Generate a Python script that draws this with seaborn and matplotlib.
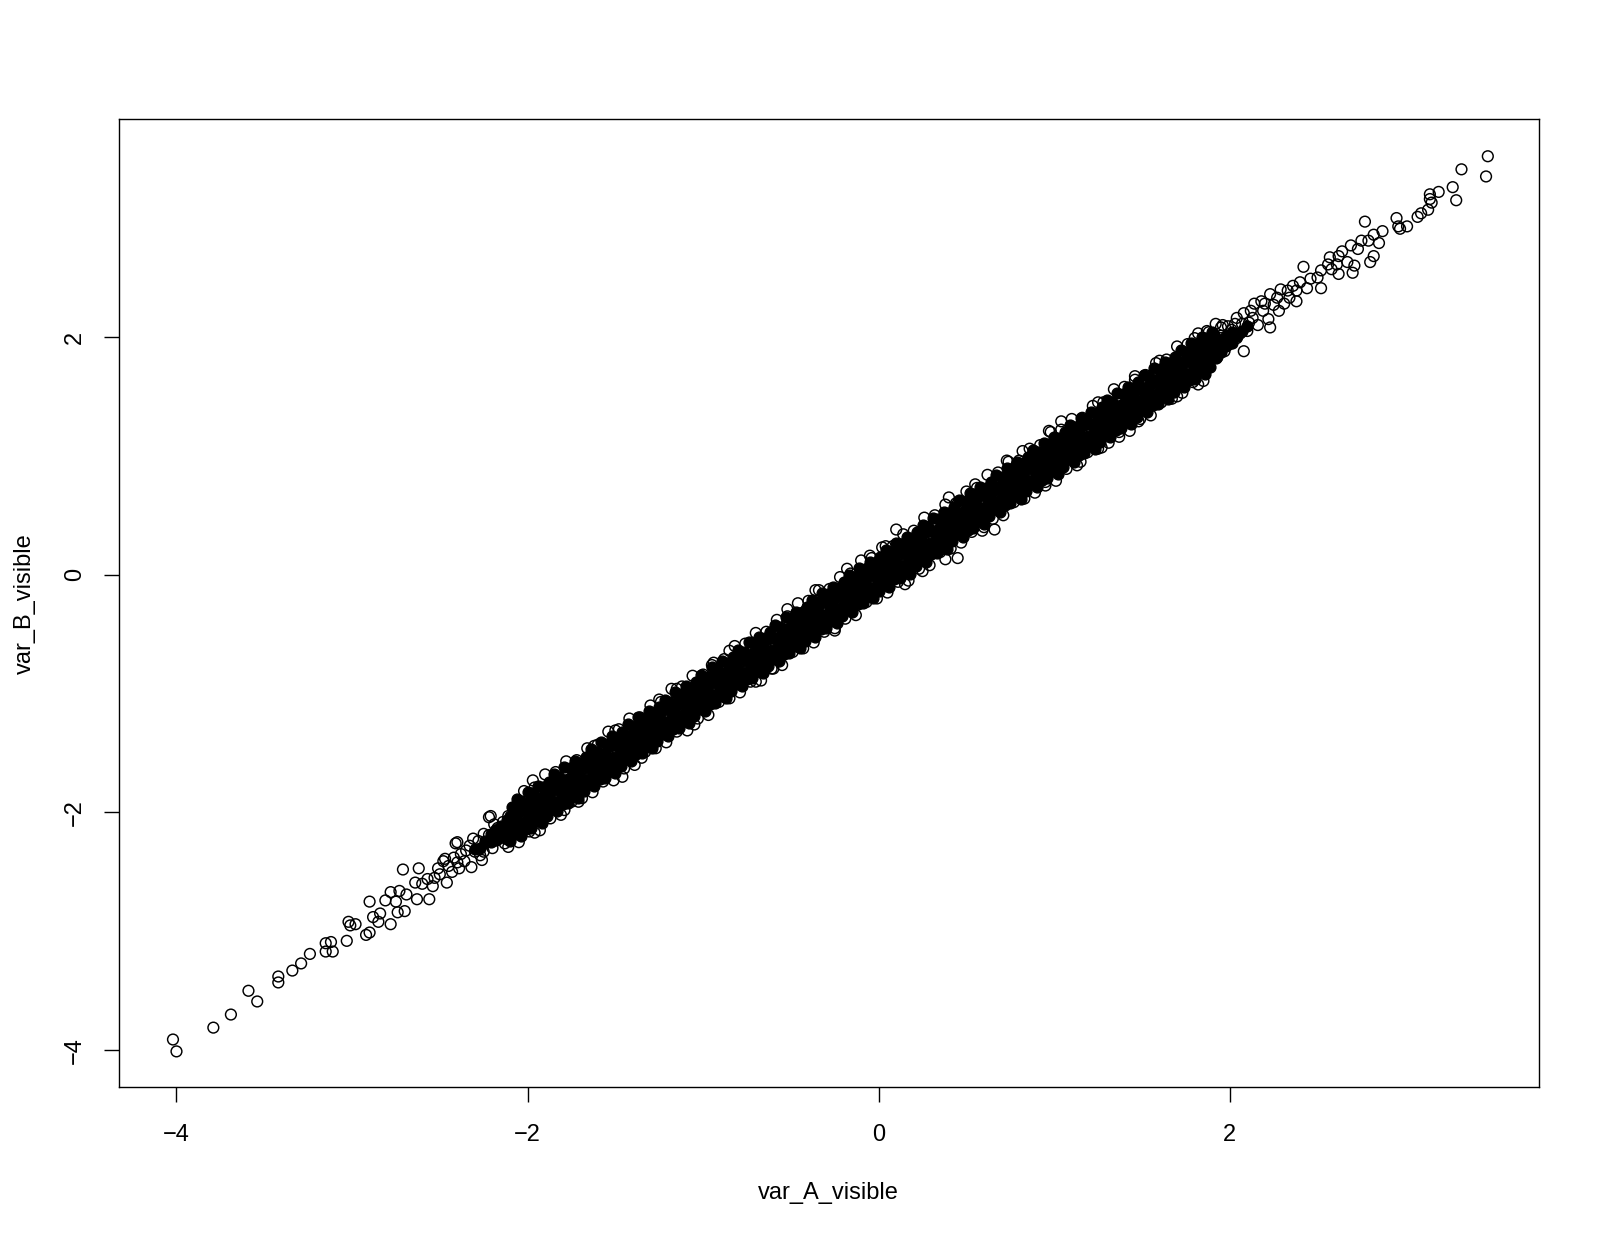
import matplotlib
matplotlib.use("Agg")
import matplotlib.pyplot as plt
import seaborn as sns
import pandas as pd

# ---------------------------------------------------------------------------
# values
# ---------------------------------------------------------------------------

# sparse lower tail
tail_low_a = [-4.02, -4.00, -3.79, -3.69, -3.59, -3.54, -3.42, -3.42, -3.34, -3.29,
              -3.24, -3.15, -3.15, -3.11, -3.12, -3.03, -3.02, -3.01, -2.98, -2.92,
              -2.90, -2.90, -2.88, -2.85, -2.84, -2.78, -2.81, -2.78, -2.75, -2.74,
              -2.73, -2.70, -2.71, -2.69, -2.62, -2.63, -2.64, -2.60, -2.57, -2.56,
              -2.54, -2.51, -2.47, -2.46, -2.43, -2.40, -2.41, -2.35, -2.32, -2.26,
              -2.25, -2.22, -2.17,
              -2.45, -2.42, -2.38, -2.36, -2.33, -2.30, -2.28, -2.27, -2.24, -2.22,
              -2.20, -2.18, -2.16, -2.14, -2.12, -2.11, -2.13, -2.19, -2.25, -2.31,
              -2.39, -2.50, -2.48, -2.53]
tail_low_b = [-3.91, -4.01, -3.81, -3.70, -3.50, -3.59, -3.38, -3.43, -3.33, -3.27,
              -3.19, -3.17, -3.10, -3.17, -3.09, -3.08, -2.92, -2.95, -2.94, -3.03,
              -3.01, -2.75, -2.88, -2.92, -2.85, -2.94, -2.74, -2.67, -2.75, -2.84,
              -2.66, -2.83, -2.48, -2.69, -2.47, -2.73, -2.59, -2.60, -2.56, -2.73,
              -2.62, -2.47, -2.39, -2.59, -2.50, -2.42, -2.26, -2.32, -2.46, -2.40,
              -2.18, -2.04, -2.13,
              -2.45, -2.38, -2.35, -2.41, -2.28, -2.33, -2.24, -2.36, -2.26, -2.19,
              -2.30, -2.15, -2.22, -2.08, -2.18, -2.03, -2.26, -2.10, -2.33, -2.22,
              -2.47, -2.52, -2.41, -2.55]

# sparse upper tail
tail_high_a = [3.47, 3.46, 3.32, 3.27, 3.29, 3.19, 3.14, 3.14, 3.15, 3.13,
               3.09, 3.07, 3.01, 2.97, 2.95, 2.96, 2.77, 2.87, 2.85, 2.82,
               2.80, 2.82, 2.79, 2.75, 2.73, 2.69, 2.71, 2.70, 2.67, 2.64,
               2.62, 2.61, 2.62, 2.57, 2.58, 2.56, 2.52, 2.42, 2.50, 2.52,
               2.46, 2.44, 2.40, 2.38, 2.36, 2.33, 2.29, 2.27, 2.23, 2.20,
               2.18, 2.14, 2.12, 2.08, 2.04, 2.03, 1.99, 1.95, 1.92, 1.91,
               1.87, 1.86, 2.23, 2.38, 2.31,
               1.92, 1.95, 1.98, 2.01, 2.04, 2.07, 2.10, 1.93, 1.96, 2.00,
               2.13, 2.16, 2.08, 2.19, 2.25, 2.22, 2.28, 2.34, 2.06, 2.11, 1.97]
tail_high_b = [3.52, 3.35, 3.41, 3.26, 3.15, 3.22, 3.20, 3.16, 3.13, 3.07,
               3.04, 3.01, 2.93, 2.91, 3.00, 2.93, 2.97, 2.89, 2.79, 2.86,
               2.63, 2.68, 2.81, 2.81, 2.74, 2.77, 2.60, 2.54, 2.63, 2.72,
               2.68, 2.61, 2.53, 2.67, 2.57, 2.61, 2.56, 2.59, 2.50, 2.41,
               2.49, 2.41, 2.46, 2.39, 2.43, 2.39, 2.40, 2.33, 2.36, 2.28,
               2.30, 2.28, 2.22, 2.20, 2.16, 2.11, 2.09, 2.08, 2.11, 2.02,
               2.05, 1.98, 2.08, 2.30, 2.28,
               1.90, 2.01, 1.95, 2.06, 1.99, 2.11, 2.05, 1.83, 2.10, 1.94,
               2.16, 2.10, 1.88, 2.22, 2.27, 2.15, 2.22, 2.33, 2.03, 2.12, 1.88]

# loose circles on both edges of the dense band
edge_a = [0.45, 0.10, 0.15, 0.38, 0.66, -0.52, -0.36, -0.18, 0.04, 0.40,
          0.25, 1.04, 0.97, 1.46, 1.80, 1.37, 1.27, 1.82, 1.48, 0.73,
          0.82, -1.97, -2.11, -1.96, -2.21, -1.46, -1.62, -1.79, -1.71, -2.40,
          -1.25, -1.05, -0.85, -0.70, -0.95, -1.35, -1.15, -0.60, 0.55, 0.95,
          1.15, 1.60, 1.70, -0.25, -0.05, 1.25, 0.60, -1.50, 0.20]
edge_b = [0.14, 0.38, -0.08, 0.13, 0.38, -0.29, -0.13, 0.05, 0.24, 0.65,
          0.03, 1.29, 1.21, 1.64, 1.99, 1.16, 1.07, 1.60, 1.29, 0.96,
          1.04, -1.73, -2.29, -2.17, -2.03, -1.70, -1.44, -1.98, -1.91, -2.25,
          -1.05, -1.26, -0.64, -0.90, -0.76, -1.54, -0.96, -0.79, 0.76, 0.75,
          0.95, 1.80, 1.50, -0.45, 0.16, 1.45, 0.40, -1.31, 0.27]

# outer fringe of the band, below and above
fringe_a_low = [-2.05, -1.99, -1.93, -1.87, -1.81, -1.75, -1.69, -1.63, -1.57, -1.51,
                -1.45, -1.39, -1.33, -1.27, -1.21, -1.15, -1.09, -1.03, -0.97, -0.91,
                -0.85, -0.79, -0.73, -0.67, -0.61, -0.55, -0.49, -0.43, -0.37, -0.31,
                -0.25, -0.19, -0.13, -0.07, -0.01, 0.05, 0.11, 0.17, 0.23, 0.29,
                0.35, 0.41, 0.47, 0.53, 0.59, 0.65, 0.71, 0.77, 0.83, 0.89,
                0.95, 1.01, 1.07, 1.13, 1.19, 1.25, 1.31, 1.37, 1.43, 1.49,
                1.55, 1.61, 1.67, 1.73, 1.79, 1.85]
fringe_b_low = [-2.25, -2.16, -2.15, -2.05, -2.02, -1.91, -1.88, -1.83, -1.74, -1.73,
                -1.63, -1.60, -1.49, -1.46, -1.41, -1.32, -1.31, -1.21, -1.18, -1.07,
                -1.04, -0.99, -0.90, -0.89, -0.79, -0.76, -0.65, -0.62, -0.57, -0.48,
                -0.47, -0.37, -0.34, -0.23, -0.20, -0.15, -0.06, -0.05, 0.05, 0.08,
                0.19, 0.22, 0.27, 0.36, 0.37, 0.47, 0.50, 0.61, 0.64, 0.69,
                0.78, 0.79, 0.89, 0.92, 1.03, 1.06, 1.11, 1.20, 1.21, 1.31,
                1.34, 1.45, 1.48, 1.53, 1.62, 1.63]
fringe_a_high = [-2.02, -1.96, -1.90, -1.84, -1.78, -1.72, -1.66, -1.60, -1.54, -1.48,
                 -1.42, -1.36, -1.30, -1.24, -1.18, -1.12, -1.06, -1.00, -0.94, -0.88,
                 -0.82, -0.76, -0.70, -0.64, -0.58, -0.52, -0.46, -0.40, -0.34, -0.28,
                 -0.22, -0.16, -0.10, -0.04, 0.02, 0.08, 0.14, 0.20, 0.26, 0.32,
                 0.38, 0.44, 0.50, 0.56, 0.62, 0.68, 0.74, 0.80, 0.86, 0.92,
                 0.98, 1.04, 1.10, 1.16, 1.22, 1.28, 1.34, 1.40, 1.46, 1.52,
                 1.58, 1.64, 1.70, 1.76, 1.82, 1.88]
fringe_b_high = [-1.82, -1.79, -1.68, -1.66, -1.57, -1.56, -1.46, -1.43, -1.32, -1.30,
                 -1.21, -1.20, -1.10, -1.07, -0.96, -0.94, -0.85, -0.84, -0.74, -0.71,
                 -0.60, -0.58, -0.49, -0.48, -0.38, -0.35, -0.24, -0.22, -0.13, -0.12,
                 -0.02, 0.01, 0.12, 0.14, 0.23, 0.24, 0.34, 0.37, 0.48, 0.50,
                 0.59, 0.60, 0.70, 0.73, 0.84, 0.86, 0.95, 0.96, 1.06, 1.09,
                 1.20, 1.22, 1.31, 1.32, 1.42, 1.45, 1.56, 1.58, 1.67, 1.68,
                 1.78, 1.81, 1.92, 1.94, 2.03, 2.04]

# where the dense band thins out at both ends
taper_a = [-2.12, -2.12, -2.12, -2.15, -2.15, -2.18, -2.18, -2.21, -2.21, -2.24,
           -2.27, -2.30,
           1.92, 1.92, 1.92, 1.95, 1.95, 1.98, 1.98, 2.01, 2.01, 2.04,
           2.07, 2.10]
taper_b = [-2.22, -2.14, -2.06, -2.20, -2.11, -2.23, -2.15, -2.25, -2.18, -2.24,
           -2.30, -2.31,
           1.82, 1.91, 1.99, 1.87, 1.96, 1.92, 2.01, 1.95, 2.04, 2.01,
           2.05, 2.09]

# dense band, first column set
band_a0 = [-2.10, -2.07, -2.04, -2.01, -1.98, -1.95, -1.92, -1.89, -1.86, -1.83,
           -1.80, -1.77, -1.74, -1.71, -1.68, -1.65, -1.62, -1.59, -1.56, -1.53,
           -1.50, -1.47, -1.44, -1.41, -1.38, -1.35, -1.32, -1.29, -1.26, -1.23,
           -1.20, -1.17, -1.14, -1.11, -1.08, -1.05, -1.02, -0.99, -0.96, -0.93,
           -0.90, -0.87, -0.84, -0.81, -0.78, -0.75, -0.72, -0.69, -0.66, -0.63,
           -0.60, -0.57, -0.54, -0.51, -0.48, -0.45, -0.42, -0.39, -0.36, -0.33,
           -0.30, -0.27, -0.24, -0.21, -0.18, -0.15, -0.12, -0.09, -0.06, -0.03,
           0.00, 0.03, 0.06, 0.09, 0.12, 0.15, 0.18, 0.21, 0.24, 0.27,
           0.30, 0.33, 0.36, 0.39, 0.42, 0.45, 0.48, 0.51, 0.54, 0.57,
           0.60, 0.63, 0.66, 0.69, 0.72, 0.75, 0.78, 0.81, 0.84, 0.87,
           0.90, 0.93, 0.96, 0.99, 1.02, 1.05, 1.08, 1.11, 1.14, 1.17,
           1.20, 1.23, 1.26, 1.29, 1.32, 1.35, 1.38, 1.41, 1.44, 1.47,
           1.50, 1.53, 1.56, 1.59, 1.62, 1.65, 1.68, 1.71, 1.74, 1.77,
           1.80, 1.83, 1.86, 1.89]
band_b_low = [-2.24, -2.18, -2.20, -2.14, -2.13, -2.07, -2.09, -2.03, -1.97, -1.99,
              -1.93, -1.92, -1.86, -1.88, -1.82, -1.76, -1.78, -1.72, -1.71, -1.65,
              -1.67, -1.61, -1.55, -1.57, -1.51, -1.50, -1.44, -1.46, -1.40, -1.34,
              -1.36, -1.30, -1.29, -1.23, -1.25, -1.19, -1.13, -1.15, -1.09, -1.08,
              -1.02, -1.04, -0.98, -0.92, -0.94, -0.88, -0.87, -0.81, -0.83, -0.77,
              -0.71, -0.73, -0.67, -0.66, -0.60, -0.62, -0.56, -0.50, -0.52, -0.46,
              -0.45, -0.39, -0.41, -0.35, -0.29, -0.31, -0.25, -0.24, -0.18, -0.20,
              -0.14, -0.08, -0.10, -0.04, -0.03, 0.03, 0.01, 0.07, 0.13, 0.11,
              0.17, 0.18, 0.24, 0.22, 0.28, 0.34, 0.32, 0.38, 0.39, 0.45,
              0.43, 0.49, 0.55, 0.53, 0.59, 0.60, 0.66, 0.64, 0.70, 0.76,
              0.74, 0.80, 0.81, 0.87, 0.85, 0.91, 0.97, 0.95, 1.01, 1.02,
              1.08, 1.06, 1.12, 1.18, 1.16, 1.22, 1.23, 1.29, 1.27, 1.33,
              1.39, 1.37, 1.43, 1.44, 1.50, 1.48, 1.54, 1.60, 1.58, 1.64,
              1.65, 1.71, 1.69, 1.75]
band_b_up = [-2.03, -2.02, -1.96, -1.95, -1.89, -1.88, -1.87, -1.81, -1.80, -1.74,
             -1.73, -1.72, -1.66, -1.65, -1.59, -1.58, -1.57, -1.51, -1.50, -1.44,
             -1.43, -1.42, -1.36, -1.35, -1.29, -1.28, -1.27, -1.21, -1.20, -1.14,
             -1.13, -1.12, -1.06, -1.05, -0.99, -0.98, -0.97, -0.91, -0.90, -0.84,
             -0.83, -0.82, -0.76, -0.75, -0.69, -0.68, -0.67, -0.61, -0.60, -0.54,
             -0.53, -0.52, -0.46, -0.45, -0.39, -0.38, -0.37, -0.31, -0.30, -0.24,
             -0.23, -0.22, -0.16, -0.15, -0.09, -0.08, -0.07, -0.01, 0.00, 0.06,
             0.07, 0.08, 0.14, 0.15, 0.21, 0.22, 0.23, 0.29, 0.30, 0.36,
             0.37, 0.38, 0.44, 0.45, 0.51, 0.52, 0.53, 0.59, 0.60, 0.66,
             0.67, 0.68, 0.74, 0.75, 0.81, 0.82, 0.83, 0.89, 0.90, 0.96,
             0.97, 0.98, 1.04, 1.05, 1.11, 1.12, 1.13, 1.19, 1.20, 1.26,
             1.27, 1.28, 1.34, 1.35, 1.41, 1.42, 1.43, 1.49, 1.50, 1.56,
             1.57, 1.58, 1.64, 1.65, 1.71, 1.72, 1.73, 1.79, 1.80, 1.86,
             1.87, 1.88, 1.94, 1.95]

# dense band, second column set
band_a1 = [-2.09, -2.06, -2.03, -2.00, -1.97, -1.94, -1.91, -1.88, -1.85, -1.82,
           -1.79, -1.76, -1.73, -1.70, -1.67, -1.64, -1.61, -1.58, -1.55, -1.52,
           -1.49, -1.46, -1.43, -1.40, -1.37, -1.34, -1.31, -1.28, -1.25, -1.22,
           -1.19, -1.16, -1.13, -1.10, -1.07, -1.04, -1.01, -0.98, -0.95, -0.92,
           -0.89, -0.86, -0.83, -0.80, -0.77, -0.74, -0.71, -0.68, -0.65, -0.62,
           -0.59, -0.56, -0.53, -0.50, -0.47, -0.44, -0.41, -0.38, -0.35, -0.32,
           -0.29, -0.26, -0.23, -0.20, -0.17, -0.14, -0.11, -0.08, -0.05, -0.02,
           0.01, 0.04, 0.07, 0.10, 0.13, 0.16, 0.19, 0.22, 0.25, 0.28,
           0.31, 0.34, 0.37, 0.40, 0.43, 0.46, 0.49, 0.52, 0.55, 0.58,
           0.61, 0.64, 0.67, 0.70, 0.73, 0.76, 0.79, 0.82, 0.85, 0.88,
           0.91, 0.94, 0.97, 1.00, 1.03, 1.06, 1.09, 1.12, 1.15, 1.18,
           1.21, 1.24, 1.27, 1.30, 1.33, 1.36, 1.39, 1.42, 1.45, 1.48,
           1.51, 1.54, 1.57, 1.60, 1.63, 1.66, 1.69, 1.72, 1.75, 1.78,
           1.81, 1.84, 1.87, 1.90]
band_b_lowmid = [-2.16, -2.10, -2.12, -2.06, -2.05, -2.01, -1.95, -1.97, -1.91, -1.90,
                 -1.86, -1.80, -1.82, -1.76, -1.75, -1.71, -1.65, -1.67, -1.61, -1.60,
                 -1.56, -1.50, -1.52, -1.46, -1.45, -1.41, -1.35, -1.37, -1.31, -1.30,
                 -1.26, -1.20, -1.22, -1.16, -1.15, -1.11, -1.05, -1.07, -1.01, -1.00,
                 -0.96, -0.90, -0.92, -0.86, -0.85, -0.81, -0.75, -0.77, -0.71, -0.70,
                 -0.66, -0.60, -0.62, -0.56, -0.55, -0.51, -0.45, -0.47, -0.41, -0.40,
                 -0.36, -0.30, -0.32, -0.26, -0.25, -0.21, -0.15, -0.17, -0.11, -0.10,
                 -0.06, 0.00, -0.02, 0.04, 0.05, 0.09, 0.15, 0.13, 0.19, 0.20,
                 0.24, 0.30, 0.28, 0.34, 0.35, 0.39, 0.45, 0.43, 0.49, 0.50,
                 0.54, 0.60, 0.58, 0.64, 0.65, 0.69, 0.75, 0.73, 0.79, 0.80,
                 0.84, 0.90, 0.88, 0.94, 0.95, 0.99, 1.05, 1.03, 1.09, 1.10,
                 1.14, 1.20, 1.18, 1.24, 1.25, 1.29, 1.35, 1.33, 1.39, 1.40,
                 1.44, 1.50, 1.48, 1.54, 1.55, 1.59, 1.65, 1.63, 1.69, 1.70,
                 1.74, 1.80, 1.78, 1.84]
band_b_top = [-1.95, -1.89, -1.91, -1.83, -1.84, -1.78, -1.79,
              -1.74, -1.68, -1.70, -1.62, -1.63, -1.57, -1.58,
              -1.53, -1.47, -1.49, -1.41, -1.42, -1.36, -1.37,
              -1.32, -1.26, -1.28, -1.20, -1.21, -1.15, -1.16,
              -1.11, -1.05, -1.07, -0.99, -1.00, -0.94, -0.95,
              -0.90, -0.84, -0.86, -0.78, -0.79, -0.73, -0.74,
              -0.69, -0.63, -0.65, -0.57, -0.58, -0.52, -0.53,
              -0.48, -0.42, -0.44, -0.36, -0.37, -0.31, -0.32,
              -0.27, -0.21, -0.23, -0.15, -0.16, -0.10, -0.11,
              -0.06, 0.00, -0.02, 0.06, 0.05, 0.11, 0.10,
              0.15, 0.21, 0.19, 0.27, 0.26, 0.32, 0.31,
              0.36, 0.42, 0.40, 0.48, 0.47, 0.53, 0.52,
              0.57, 0.63, 0.61, 0.69, 0.68, 0.74, 0.73,
              0.78, 0.84, 0.82, 0.90, 0.89, 0.95, 0.94,
              0.99, 1.05, 1.03, 1.11, 1.10, 1.16, 1.15,
              1.20, 1.26, 1.24, 1.32, 1.31, 1.37, 1.36,
              1.41, 1.47, 1.45, 1.53, 1.52, 1.58, 1.57,
              1.62, 1.68, 1.66, 1.74, 1.73, 1.79, 1.78,
              1.83, 1.89, 1.87, 1.95, 1.94, 2.00, 1.99,
              2.04]

# dense band, third column set
band_a2 = [-2.08, -2.05, -2.02, -1.99, -1.96, -1.93, -1.90, -1.87, -1.84, -1.81,
           -1.78, -1.75, -1.72, -1.69, -1.66, -1.63, -1.60, -1.57, -1.54, -1.51,
           -1.48, -1.45, -1.42, -1.39, -1.36, -1.33, -1.30, -1.27, -1.24, -1.21,
           -1.18, -1.15, -1.12, -1.09, -1.06, -1.03, -1.00, -0.97, -0.94, -0.91,
           -0.88, -0.85, -0.82, -0.79, -0.76, -0.73, -0.70, -0.67, -0.64, -0.61,
           -0.58, -0.55, -0.52, -0.49, -0.46, -0.43, -0.40, -0.37, -0.34, -0.31,
           -0.28, -0.25, -0.22, -0.19, -0.16, -0.13, -0.10, -0.07, -0.04, -0.01,
           0.02, 0.05, 0.08, 0.11, 0.14, 0.17, 0.20, 0.23, 0.26, 0.29,
           0.32, 0.35, 0.38, 0.41, 0.44, 0.47, 0.50, 0.53, 0.56, 0.59,
           0.62, 0.65, 0.68, 0.71, 0.74, 0.77, 0.80, 0.83, 0.86, 0.89,
           0.92, 0.95, 0.98, 1.01, 1.04, 1.07, 1.10, 1.13, 1.16, 1.19,
           1.22, 1.25, 1.28, 1.31, 1.34, 1.37, 1.40, 1.43, 1.46, 1.49,
           1.52, 1.55, 1.58, 1.61, 1.64, 1.67, 1.70, 1.73, 1.76, 1.79,
           1.82, 1.85, 1.88, 1.91]
band_b_mid = [-2.08, -2.07, -1.99, -2.00, -1.94, -1.96,
              -1.90, -1.89, -1.81, -1.82, -1.76, -1.78,
              -1.72, -1.71, -1.63, -1.64, -1.58, -1.60,
              -1.54, -1.53, -1.45, -1.46, -1.40, -1.42,
              -1.36, -1.35, -1.27, -1.28, -1.22, -1.24,
              -1.18, -1.17, -1.09, -1.10, -1.04, -1.06,
              -1.00, -0.99, -0.91, -0.92, -0.86, -0.88,
              -0.82, -0.81, -0.73, -0.74, -0.68, -0.70,
              -0.64, -0.63, -0.55, -0.56, -0.50, -0.52,
              -0.46, -0.45, -0.37, -0.38, -0.32, -0.34,
              -0.28, -0.27, -0.19, -0.20, -0.14, -0.16,
              -0.10, -0.09, -0.01, -0.02, 0.04, 0.02,
              0.08, 0.09, 0.17, 0.16, 0.22, 0.20,
              0.26, 0.27, 0.35, 0.34, 0.40, 0.38,
              0.44, 0.45, 0.53, 0.52, 0.58, 0.56,
              0.62, 0.63, 0.71, 0.70, 0.76, 0.74,
              0.80, 0.81, 0.89, 0.88, 0.94, 0.92,
              0.98, 0.99, 1.07, 1.06, 1.12, 1.10,
              1.16, 1.17, 1.25, 1.24, 1.30, 1.28,
              1.34, 1.35, 1.43, 1.42, 1.48, 1.46,
              1.52, 1.53, 1.61, 1.60, 1.66, 1.64,
              1.70, 1.71, 1.79, 1.78, 1.84, 1.82,
              1.88, 1.89]

x_ticks = [-4, -2, 0, 2]
y_ticks = [-4, -2, 0, 2]

# points on the outside of the cloud stay visible as single rings
outer = pd.DataFrame({
    "var_A_visible": (tail_low_a + tail_high_a + edge_a + fringe_a_low + fringe_a_high),
    "var_B_visible": (tail_low_b + tail_high_b + edge_b + fringe_b_low + fringe_b_high),
})
# the overplotted body of the band, where thousands of rings merge into solid black
inner = pd.DataFrame({
    "var_A_visible": band_a0 + band_a0 + band_a1 + band_a1 + band_a2 + taper_a,
    "var_B_visible": (band_b_low + band_b_up + band_b_lowmid + band_b_top + band_b_mid
                      + taper_b),
})

# ---------------------------------------------------------------------------
# plot
# ---------------------------------------------------------------------------
sns.set_style("white")
plt.rcParams["font.family"] = ["Liberation Sans", "DejaVu Sans"]
plt.rcParams["text.color"] = "black"
plt.rcParams["axes.labelcolor"] = "black"
plt.rcParams["xtick.color"] = "black"
plt.rcParams["ytick.color"] = "black"

fig = plt.figure(figsize=(16, 12.36), dpi=100)
ax = fig.add_axes([0.0741, 0.1205, 0.8876, 0.7829])

sns.scatterplot(data=inner, x="var_A_visible", y="var_B_visible", ax=ax,
                marker="o", s=60, linewidth=1.05, edgecolor="black", legend=False)
sns.scatterplot(data=outer, x="var_A_visible", y="var_B_visible", ax=ax,
                marker="o", s=60, linewidth=1.05, edgecolor="black", legend=False)
inner_pts, outer_pts = ax.collections[0], ax.collections[1]
inner_pts.set_facecolor("black")
inner_pts.set_edgecolor("black")
outer_pts.set_facecolor("none")
outer_pts.set_edgecolor("black")
outer_pts.set_linewidths(1.05)

ax.set_xlim(-4.33, 3.76)
ax.set_ylim(-4.31, 3.83)
ax.set_xticks(x_ticks)
ax.set_yticks(y_ticks)
ax.tick_params(direction="out", length=11, width=1.0, color="black",
               labelsize=17, labelcolor="black", bottom=True, left=True)
ax.tick_params(axis="x", pad=15.5)
ax.tick_params(axis="y", pad=12.5)
plt.setp(ax.get_yticklabels(), rotation=90, va="center")

for sp in ax.spines.values():
    sp.set_color("black")
    sp.set_linewidth(1.0)

ax.set_xlabel("var_A_visible", fontsize=17, labelpad=26)
ax.set_ylabel("var_B_visible", fontsize=17, labelpad=20)

fig.savefig("out.png", dpi=100)
